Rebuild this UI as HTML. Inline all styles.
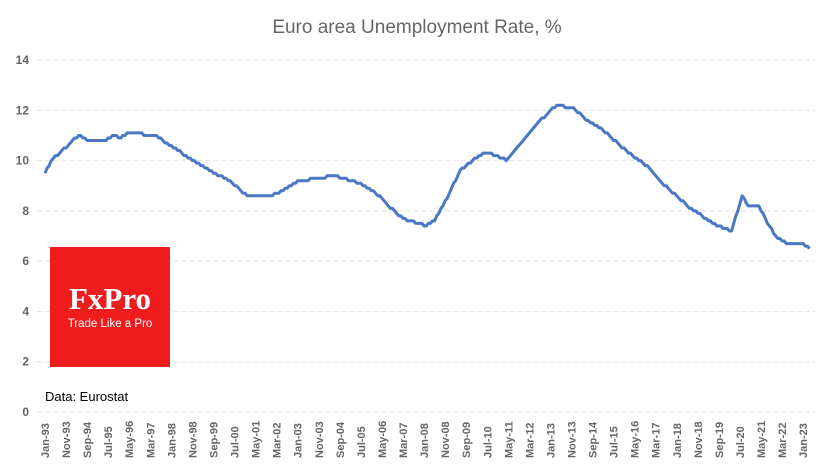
<!DOCTYPE html>
<html><head><meta charset="utf-8"><style>
body{margin:0;background:#fff;width:835px;height:470px;overflow:hidden;font-family:"Liberation Sans",sans-serif}
</style></head><body>
<svg id="s" width="835" height="470" xmlns="http://www.w3.org/2000/svg" font-family="Liberation Sans, sans-serif">
<text x="417" y="33" text-anchor="middle" font-size="19" fill="#666">Euro area Unemployment Rate, %</text>
<g id="grid" stroke="#e4e4e4" stroke-dasharray="5,3" stroke-width="1"></g>
<g id="yl" font-size="12" fill="#666" font-weight="bold" text-anchor="end"></g>
<g id="xl" font-size="11" fill="#666" font-weight="bold"></g>
<rect x="50" y="247" width="120" height="120" fill="#ee1c1c"/>
<text x="110" y="309" text-anchor="middle" font-family="Liberation Serif, serif" font-size="31" font-weight="bold" fill="#fff">FxPro</text>
<text x="110" y="327" text-anchor="middle" font-size="11.5" fill="#fff">Trade Like a Pro</text>
<text x="45" y="401" font-size="13" fill="#000">Data: Eurostat</text>
<polyline id="ln" fill="none" stroke="#4a78c2" stroke-width="3" stroke-linejoin="round"/>
</svg>
<script>
var ns="http://www.w3.org/2000/svg";
function Y(v){return 412-v*25.14}
var g=document.getElementById('grid'),yl=document.getElementById('yl'),xl=document.getElementById('xl');
for(var v=0;v<=14;v+=2){var l=document.createElementNS(ns,'line');l.setAttribute('x1',37);l.setAttribute('x2',815);l.setAttribute('y1',Y(v));l.setAttribute('y2',Y(v));g.appendChild(l);
var t=document.createElementNS(ns,'text');t.setAttribute('x',29);t.setAttribute('y',Y(v)+4);t.textContent=v;yl.appendChild(t);}
var mn=['Jan','Feb','Mar','Apr','May','Jun','Jul','Aug','Sep','Oct','Nov','Dec'];
function X(m){return 45+m*2.106}
for(var i=0;i<=36;i++){var m=i*10,yr=(93+Math.floor(m/12))%100,lab=mn[m%12]+'-'+(yr<10?'0':'')+yr;
var t=document.createElementNS(ns,'text');var x=X(m)+4;t.setAttribute('transform','translate('+x+',458) rotate(-90)');t.textContent=lab;xl.appendChild(t);}
var k=[[1993,1,9.5],[1993,4,10.0],[1994,1,10.7],[1994,5,11.0],[1994,10,10.8],[1995,6,10.8],[1995,9,11.0],[1996,1,10.9],[1996,4,11.1],[1997,6,11.0],[1997,12,10.6],[1998,6,10.3],[1999,1,9.9],[1999,12,9.4],[2000,6,9.1],[2001,1,8.6],[2001,12,8.6],[2002,6,8.8],[2003,1,9.2],[2003,12,9.3],[2004,6,9.4],[2005,6,9.1],[2006,1,8.8],[2006,6,8.4],[2007,1,7.8],[2007,6,7.6],[2008,2,7.4],[2008,6,7.6],[2008,12,8.5],[2009,6,9.6],[2010,3,10.2],[2010,6,10.3],[2010,12,10.2],[2011,4,10.0],[2012,1,10.9],[2012,6,11.4],[2013,1,12.0],[2013,4,12.2],[2013,12,12.1],[2014,6,11.6],[2015,1,11.3],[2015,6,10.9],[2016,1,10.4],[2016,12,9.7],[2017,6,9.1],[2018,1,8.6],[2018,6,8.2],[2019,1,7.8],[2019,6,7.5],[2020,3,7.2],[2020,8,8.6],[2020,11,8.2],[2021,4,8.2],[2021,8,7.5],[2022,1,6.9],[2022,6,6.7],[2022,12,6.7],[2023,4,6.5]];
var pts=[];
for(var j=0;j<k.length-1;j++){var a=(k[j][0]-1993)*12+k[j][1]-1,b=(k[j+1][0]-1993)*12+k[j+1][1]-1;
for(var m=a;m<b;m++){var v=k[j][2]+(k[j+1][2]-k[j][2])*(m-a)/(b-a);v=Math.round(v*10)/10;pts.push(X(m).toFixed(1)+','+Y(v).toFixed(1));}}
var L=k[k.length-1];pts.push(X((L[0]-1993)*12+L[1]-1).toFixed(1)+','+Y(L[2]).toFixed(1));
document.getElementById('ln').setAttribute('points',pts.join(' '));
</script>
</body></html>
